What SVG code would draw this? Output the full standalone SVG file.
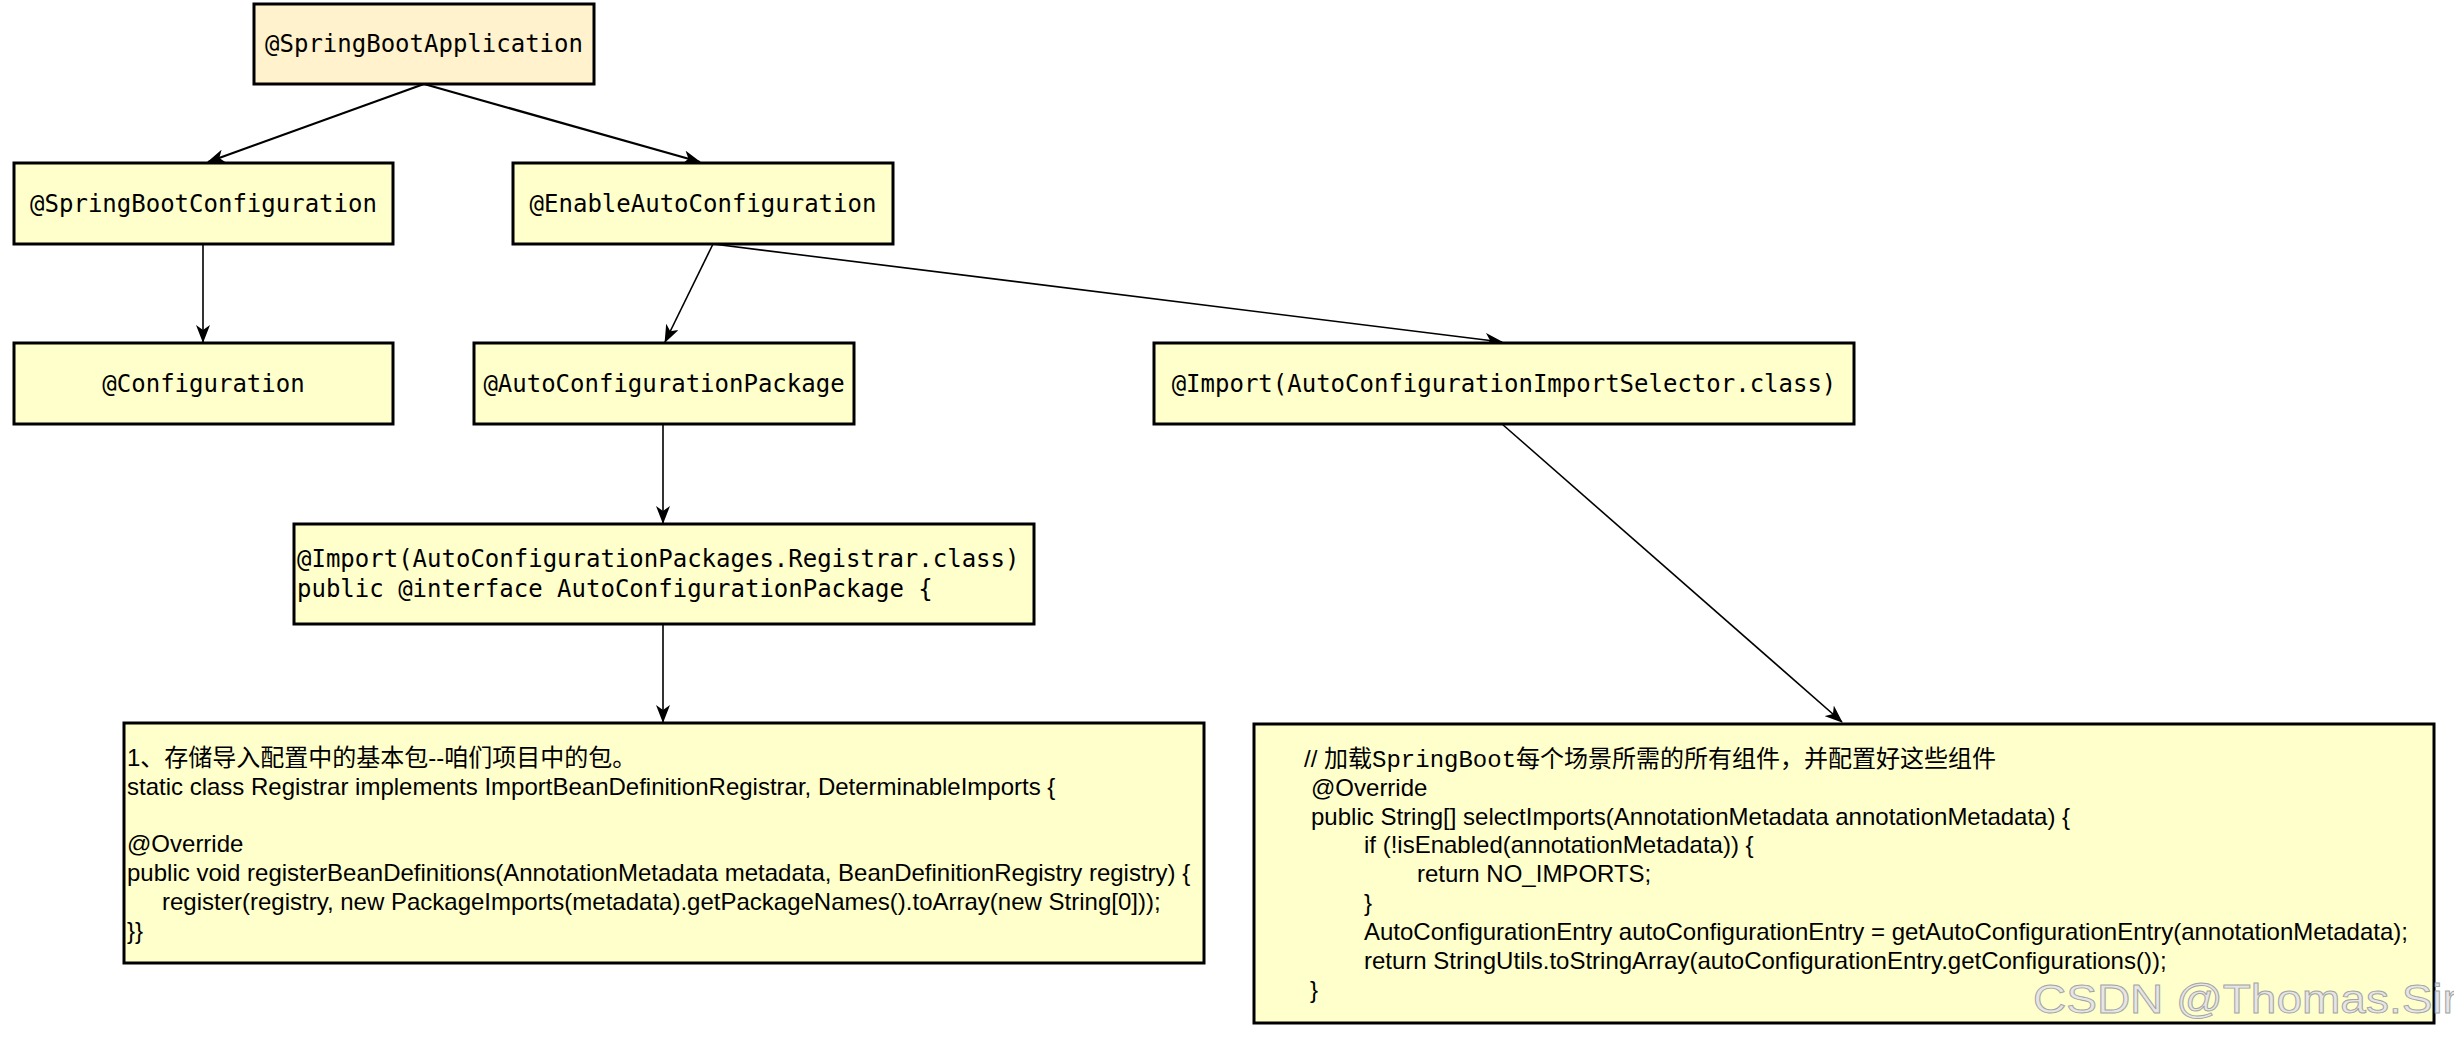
<svg xmlns="http://www.w3.org/2000/svg" width="2454" height="1038" viewBox="0 0 2454 1038">
<style>
.box{fill:#ffffcc;stroke:#000;stroke-width:3}
.root{fill:#fff2cc;stroke:#000;stroke-width:3}
.mono{font-family:"DejaVu Sans Mono","Liberation Mono",monospace;font-size:24px;fill:#000}
.code{font-family:"Liberation Sans","Noto Sans CJK SC",sans-serif;font-size:24px;fill:#000}
.cm{font-family:"Liberation Mono",monospace}
.edge{fill:none;stroke:#000;stroke-width:1.6}
.edge2{fill:none;stroke:#000;stroke-width:2.2}
.wm{font-family:"Liberation Sans",sans-serif;font-size:40px;fill:#e6e6e6;stroke:#a4a4a4;stroke-width:0.9}
</style>
<defs>
<marker id="arr" markerUnits="userSpaceOnUse" viewBox="0 0 18 14" refX="17" refY="7" markerWidth="18" markerHeight="14" orient="auto">
<path d="M0,0 L18,7 L0,14 L5,7 Z" fill="#000"/>
</marker>
</defs>
<rect width="2454" height="1038" fill="#fff"/>
<g id="connectors">
<line class="edge2" x1="424" y1="84" x2="208" y2="162" marker-end="url(#arr)"/>
<line class="edge2" x1="424" y1="84" x2="700" y2="162" marker-end="url(#arr)"/>
<line class="edge" x1="203" y1="244" x2="203" y2="342" marker-end="url(#arr)"/>
<line class="edge" x1="713" y1="244" x2="665" y2="342" marker-end="url(#arr)"/>
<line class="edge" x1="713" y1="244" x2="1502" y2="342" marker-end="url(#arr)"/>
<line class="edge" x1="663" y1="424" x2="663" y2="523" marker-end="url(#arr)"/>
<line class="edge" x1="663" y1="624" x2="663" y2="722" marker-end="url(#arr)"/>
<line class="edge" x1="1502" y1="424" x2="1842" y2="722" marker-end="url(#arr)"/>
</g>
<g id="springBootApplication">
<rect class="root" x="254" y="4" width="340" height="80"/>
<text class="mono" x="424" y="52" text-anchor="middle">@SpringBootApplication</text>
</g>
<g id="springBootConfiguration">
<rect class="box" x="14" y="163" width="379" height="81"/>
<text class="mono" x="203.5" y="212" text-anchor="middle">@SpringBootConfiguration</text>
</g>
<g id="enableAutoConfiguration">
<rect class="box" x="513" y="163" width="380" height="81"/>
<text class="mono" x="703" y="212" text-anchor="middle">@EnableAutoConfiguration</text>
</g>
<g id="configuration">
<rect class="box" x="14" y="343" width="379" height="81"/>
<text class="mono" x="203.5" y="392" text-anchor="middle">@Configuration</text>
</g>
<g id="autoConfigurationPackage">
<rect class="box" x="474" y="343" width="380" height="81"/>
<text class="mono" x="664" y="392" text-anchor="middle">@AutoConfigurationPackage</text>
</g>
<g id="importSelector">
<rect class="box" x="1154" y="343" width="700" height="81"/>
<text class="mono" x="1504" y="392" text-anchor="middle">@Import(AutoConfigurationImportSelector.class)</text>
</g>
<g id="importRegistrar">
<rect class="box" x="294" y="524" width="740" height="100"/>
<text class="mono" x="297" y="567">@Import(AutoConfigurationPackages.Registrar.class)</text>
<text class="mono" x="297" y="597">public @interface AutoConfigurationPackage {</text>
</g>
<g id="registrarCode">
<rect class="box" x="124" y="723" width="1080" height="240"/>
<text class="code" x="127" y="766">1、存储导入配置中的基本包--咱们项目中的包。</text>
<text class="code" x="127" y="795">static class Registrar implements ImportBeanDefinitionRegistrar, DeterminableImports {</text>
<text class="code" x="127" y="852">@Override</text>
<text class="code" x="127" y="881">public void registerBeanDefinitions(AnnotationMetadata metadata, BeanDefinitionRegistry registry) {</text>
<text class="code" x="162" y="910">register(registry, new PackageImports(metadata).getPackageNames().toArray(new String[0]));</text>
<text class="code" x="127" y="939">}}</text>
</g>
<g id="selectImportsCode">
<rect class="box" x="1254" y="724" width="1180" height="299"/>
<text class="code" x="1304" y="767">// 加载<tspan class="cm">SpringBoot</tspan>每个场景所需的所有组件，并配置好这些组件</text>
<text class="code" x="1311" y="796">@Override</text>
<text class="code" x="1311" y="825">public String[] selectImports(AnnotationMetadata annotationMetadata) {</text>
<text class="code" x="1364" y="853">if (!isEnabled(annotationMetadata)) {</text>
<text class="code" x="1417" y="882">return NO_IMPORTS;</text>
<text class="code" x="1364" y="911">}</text>
<text class="code" x="1364" y="940">AutoConfigurationEntry autoConfigurationEntry = getAutoConfigurationEntry(annotationMetadata);</text>
<text class="code" x="1364" y="969">return StringUtils.toStringArray(autoConfigurationEntry.getConfigurations());</text>
<text class="code" x="1310" y="998">}</text>
</g>
<text class="wm" transform="translate(2033,1013) scale(1.15,1)">CSDN @Thomas.Sir</text>
</svg>
